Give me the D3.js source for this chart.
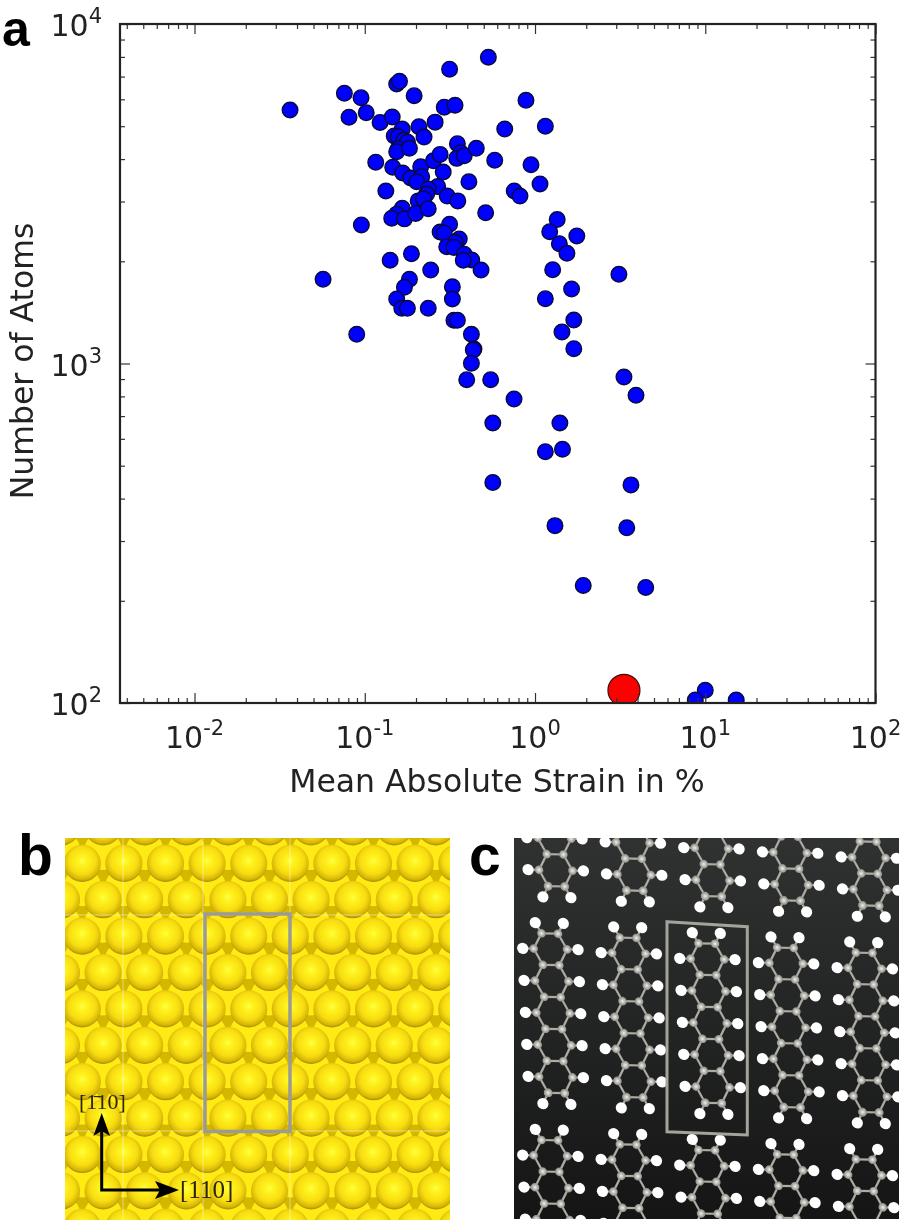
<!DOCTYPE html>
<html>
<head>
<meta charset="utf-8">
<script src="https://cdn.jsdelivr.net/npm/d3@7"></script>
<style>
  html, body { margin: 0; padding: 0; background: #fff; }
  svg { display: block; filter: blur(0.7px); }
  text { font-family: "DejaVu Sans", sans-serif; fill: #222; }
  .panel-letter { font-family: "Liberation Sans", sans-serif; font-weight: bold; font-size: 57px; fill: #000; }
  .miller { font-family: "Liberation Serif", serif; fill: #2a2410; }
</style>
</head>
<body>
<svg id="fig" width="904" height="1225"></svg>
<script>
// panel a values
const strain = [0.0364,0.0759,0.0951,0.0808,0.102,0.123,0.145,0.154,0.160,0.195,0.315,0.532,0.293,0.339,0.259,0.208,0.166,0.149,0.157,0.170,0.178,0.223,0.157,0.154,0.183,0.116,0.146,0.167,0.186,0.213,0.216,0.202,0.253,0.277,0.289,0.350,0.366,0.347,0.384,0.452,0.580,0.409,0.268,0.236,0.231,0.305,0.352,0.206,0.221,0.133,0.166,0.154,0.144,0.171,0.199,0.236,0.513,0.0955,0.315,0.277,0.293,0.359,0.339,0.303,0.334,0.384,0.425,0.379,0.482,0.188,0.141,0.244,0.0569,0.183,0.171,0.327,0.327,0.154,0.165,0.178,0.236,0.334,0.350,0.0897,0.423,0.438,0.434,0.423,0.397,0.549,0.885,1.15,0.664,0.947,1.07,0.755,0.816,1.35,1.22,1.76,1.39,1.54,1.27,3.11,1.64,1.15,1.69,1.44,1.69,3.33,3.92,0.753,0.565,1.40,1.15,1.45,0.565,3.66,1.31,3.46,1.92,4.47,10.0,8.74,15.2];
const atoms = [5580,6250,6067,5310,5480,5130,5320,6660,6780,6150,7360,7980,5690,5760,5140,4985,4905,4680,4656,4550,4490,4645,4285,4207,4305,3917,3784,3640,3517,3800,3550,3430,3956,4130,3664,4440,4178,4020,4093,4305,3970,3430,3319,3266,3155,3112,3013,3013,3055,3220,2864,2754,2678,2667,2767,2858,2780,2559,2570,2438,2420,2328,2275,2208,2198,2099,2018,2014,1884,2104,2014,1884,1770,1770,1676,1683,1549,1549,1454,1454,1454,1340,1340,1219,1219,1104,1096,1001,896,896,5960,5000,4905,3852,3381,3220,3112,2655,2445,2375,2254,2112,1888,1832,1657,1552,1343,1239,1106,912,806,786,668,668,550,559,446,439,333,328,222,219,109,102,102];
const highlightStrain = [3.33];
const highlightAtoms = [109];
const xTickExps = [-2, -1, 0, 1, 2];
const yTickExps = [2, 3, 4];

// panel b, gold surface lattice (pixel positions of the rows and columns)
const goldRowYs = [826.9, 863.3, 899.7, 936.1, 972.5, 1008.9, 1045.3, 1081.7, 1118.1, 1154.5, 1190.9, 1227.3];
const goldColsA = [82.3, 123.9, 165.5, 207.1, 248.7, 290.3, 331.9, 373.5, 415.1, 456.7];
const goldColsB = [61.5, 103.1, 144.7, 186.3, 227.9, 269.5, 311.1, 352.7, 394.3, 435.9];
const goldSeamsX = [123, 203, 290];
const goldSeamsY = [915, 1131];

// panel c, molecule origins (centre of the top H pair) for the middle row
const moleculeXs = [549.3, 627.7, 706.3, 785, 863.7];
const moleculeYs = [923, 927.3, 933, 937.3, 942.3];
const rowShifts = [-206.7, 0, 206.7];

const svg = d3.select("#fig");
const defs = svg.append("defs");

// ---------- panel a ----------
const plotLeft = 120, plotRight = 875.5, plotTop = 24, plotBottom = 703;
const x = d3.scaleLog().domain([0.00365, 100]).range([plotLeft, plotRight]);
const y = d3.scaleLog().domain([100, 10000]).range([plotBottom, plotTop]);

defs.append("clipPath").attr("id", "plotClip")
  .append("rect").attr("x", plotLeft).attr("y", plotTop).attr("width", plotRight - plotLeft).attr("height", plotBottom - plotTop);

const dots = svg.append("g").attr("clip-path", "url(#plotClip)");
dots.selectAll("circle.blue")
  .data(strain)
  .enter()
  .append("circle")
  .attr("class", "blue")
  .attr("cx", d => x(d))
  .attr("cy", (d, i) => y(atoms[i]))
  .attr("r", 7.8)
  .attr("fill", "#0000ff")
  .attr("stroke", "#0a0a3a")
  .attr("stroke-width", 1.4);

dots.selectAll("circle.red")
  .data(highlightStrain)
  .enter()
  .append("circle")
  .attr("class", "red")
  .attr("cx", d => x(d))
  .attr("cy", (d, i) => y(highlightAtoms[i]))
  .attr("r", 16)
  .attr("fill", "#ff0000")
  .attr("stroke", "#3a1010")
  .attr("stroke-width", 1.2);

// matplotlib style ticks, inward on all four sides
const xMajor = xTickExps.map(e => Math.pow(10, e));
const yMajor = yTickExps.map(e => Math.pow(10, e));
const xMinor = x.ticks().filter(t => !xMajor.some(m => Math.abs(m - t) < m * 1e-6));
const yMinor = y.ticks().filter(t => !yMajor.some(m => Math.abs(m - t) < m * 1e-6));

function drawAxis(axisFn, scale, values, size, tx, ty) {
  const g = svg.append("g")
    .attr("transform", `translate(${tx},${ty})`)
    .call(axisFn(scale).tickValues(values).tickSize(size).tickFormat(""));
  g.select(".domain").remove();
  g.selectAll("line").attr("stroke", "#333").attr("stroke-width", 1.2);
}
[[xMajor, 10], [xMinor, 5]].forEach(([vals, len]) => {
  drawAxis(d3.axisBottom, x, vals, -len, 0, plotBottom);
  drawAxis(d3.axisTop, x, vals, -len, 0, plotTop);
});
[[yMajor, 10], [yMinor, 5]].forEach(([vals, len]) => {
  drawAxis(d3.axisLeft, y, vals, -len, plotLeft, 0);
  drawAxis(d3.axisRight, y, vals, -len, plotRight, 0);
});

svg.append("rect")
  .attr("x", plotLeft).attr("y", plotTop)
  .attr("width", plotRight - plotLeft).attr("height", plotBottom - plotTop)
  .attr("fill", "none")
  .attr("stroke", "#222")
  .attr("stroke-width", 2.2);

function powerLabel(px, py, anchor, exp) {
  const t = svg.append("text")
    .attr("x", px).attr("y", py)
    .attr("text-anchor", anchor)
    .style("font-size", "30px");
  t.append("tspan").text("10");
  t.append("tspan").attr("dy", -13).style("font-size", "21px").text(exp);
}
xTickExps.forEach(e => powerLabel(x(Math.pow(10, e)), 748, "middle", e));
yTickExps.forEach(e => powerLabel(102, y(Math.pow(10, e)) + 12, "end", e));

svg.append("text")
  .attr("x", 497).attr("y", 792)
  .attr("text-anchor", "middle")
  .style("font-size", "31.5px")
  .text("Mean Absolute Strain in %");

svg.append("text")
  .attr("transform", "translate(33,361) rotate(-90)")
  .attr("text-anchor", "middle")
  .style("font-size", "31.5px")
  .text("Number of Atoms");

svg.append("text").attr("class", "panel-letter").attr("x", 2).attr("y", 45.5).style("font-size", "50px").text("a");
svg.append("text").attr("class", "panel-letter").attr("x", 18).attr("y", 875).text("b");
svg.append("text").attr("class", "panel-letter").attr("x", 469).attr("y", 875).text("c");

// ---------- panel b ----------
defs.append("clipPath").attr("id", "goldClip")
  .append("rect").attr("x", 65).attr("y", 838).attr("width", 385).attr("height", 382);

const goldGrad = defs.append("radialGradient").attr("id", "goldAtom")
  .attr("cx", "50%").attr("cy", "43%").attr("r", "60%");
[[0, "#ffff50"], [0.18, "#fff41e"], [0.6, "#f8dc10"], [0.84, "#d6b608"], [1, "#8e7800"]]
  .forEach(([o, c]) => goldGrad.append("stop").attr("offset", o).attr("stop-color", c));

const gold = svg.append("g").attr("clip-path", "url(#goldClip)");
gold.append("rect").attr("x", 65).attr("y", 838).attr("width", 385).attr("height", 382).attr("fill", "#d4b800");

const goldAtoms = [];
goldRowYs.forEach((ry, i) => {
  // rows alternate, starting with the B row at the very top
  const cols = i % 2 === 0 ? goldColsB : goldColsA;
  cols.forEach(cx => goldAtoms.push({ cx, cy: ry }));
});
// second layer shows through the gaps
gold.selectAll("circle.under")
  .data(goldAtoms)
  .enter()
  .append("circle")
  .attr("class", "under")
  .attr("cx", d => d.cx)
  .attr("cy", d => d.cy + 24)
  .attr("r", 19)
  .attr("fill", "#ffea14");
gold.selectAll("circle.over")
  .data(goldAtoms)
  .enter()
  .append("circle")
  .attr("class", "over")
  .attr("cx", d => d.cx)
  .attr("cy", d => d.cy)
  .attr("r", 18.6)
  .attr("fill", "url(#goldAtom)");

gold.selectAll("line.seamx").data(goldSeamsX).enter().append("line")
  .attr("x1", d => d).attr("x2", d => d).attr("y1", 838).attr("y2", 1220)
  .attr("stroke", "#fff").attr("stroke-opacity", 0.45);
gold.selectAll("line.seamy").data(goldSeamsY).enter().append("line")
  .attr("x1", 65).attr("x2", 450).attr("y1", d => d).attr("y2", d => d)
  .attr("stroke", "#fff").attr("stroke-opacity", 0.45);

gold.append("rect")
  .attr("x", 205).attr("y", 914)
  .attr("width", 85).attr("height", 217.5)
  .attr("fill", "none")
  .attr("stroke", "#9a9a96")
  .attr("stroke-width", 3.5);

// crystal direction arrows
svg.append("path")
  .attr("d", "M101.7,1130V1190H160")
  .attr("fill", "none").attr("stroke", "#000").attr("stroke-width", 3);
svg.append("path").attr("d", "M101.7,1113L110,1136L101.7,1131L93.4,1136Z").attr("fill", "#000");
svg.append("path").attr("d", "M179,1190L155,1199L160,1190L155,1181Z").attr("fill", "#000");
svg.append("text").attr("class", "miller").attr("x", 180).attr("y", 1198).style("font-size", "25px").text("[110]");
svg.append("text").attr("class", "miller").attr("x", 79).attr("y", 1109).style("font-size", "22px").text("[1\u030410]");

// ---------- panel c ----------
defs.append("clipPath").attr("id", "molClip")
  .append("rect").attr("x", 514).attr("y", 838).attr("width", 385).attr("height", 381);

const darkGrad = defs.append("linearGradient").attr("id", "darkBg")
  .attr("x1", 0).attr("x2", 0).attr("y1", 0).attr("y2", 1);
darkGrad.append("stop").attr("offset", 0).attr("stop-color", "#303232");
darkGrad.append("stop").attr("offset", 1).attr("stop-color", "#151515");

const carbonGrad = defs.append("radialGradient").attr("id", "carbon");
carbonGrad.append("stop").attr("offset", 0).attr("stop-color", "#f0f0ec");
carbonGrad.append("stop").attr("offset", 1).attr("stop-color", "#8a8a82");

const mol = svg.append("g").attr("clip-path", "url(#molClip)");
mol.append("rect").attr("x", 514).attr("y", 838).attr("width", 385).attr("height", 381).attr("fill", "url(#darkBg)");

// one pentacene, local coordinates relative to the centre of the top H pair
const ringRows = [26, 58, 90, 122, 154];
const cAtoms = [], hAtoms = [], bonds = [];
[-1, 1].forEach(s => {
  hAtoms.push([s * 14, 0], [s * 14, 181]);
  cAtoms.push([s * 8.3, 10.5], [s * 8.3, 170]);
  bonds.push([s * 14, 0, s * 8.3, 10.5], [s * 14, 181, s * 8.3, 170]);
  ringRows.forEach(v => {
    hAtoms.push([s * 27.7, v]);
    cAtoms.push([s * 16.7, v], [s * 8.3, v + 16]);
    bonds.push([s * 27.7, v, s * 16.7, v], [s * 16.7, v, s * 8.3, v + 16], [s * 16.7, v, s * 8.3, v === 26 ? 10.5 : v - 16]);
  });
});
[10.5].concat(ringRows.map(v => v + 16)).forEach(v => bonds.push([-8.3, v, 8.3, v]));

const molecules = [];
rowShifts.forEach(shift => {
  moleculeXs.forEach((mx, i) => molecules.push({ mx, my: moleculeYs[i] + shift }));
});

const molG = mol.selectAll("g.molecule")
  .data(molecules)
  .enter()
  .append("g")
  .attr("class", "molecule")
  .attr("transform", d => `matrix(1,0.024,0.042,1,${d.mx},${d.my})`);

molG.selectAll("line")
  .data(bonds)
  .enter()
  .append("line")
  .attr("x1", d => d[0]).attr("y1", d => d[1])
  .attr("x2", d => d[2]).attr("y2", d => d[3])
  .attr("stroke", "#acaca6")
  .attr("stroke-width", 2.2);
molG.selectAll("circle.c")
  .data(cAtoms)
  .enter()
  .append("circle")
  .attr("class", "c")
  .attr("cx", d => d[0]).attr("cy", d => d[1])
  .attr("r", 4.3)
  .attr("fill", "url(#carbon)");
molG.selectAll("circle.h")
  .data(hAtoms)
  .enter()
  .append("circle")
  .attr("class", "h")
  .attr("cx", d => d[0]).attr("cy", d => d[1])
  .attr("r", 5.6)
  .attr("fill", "#ffffff");

mol.append("polygon")
  .attr("points", "667,921.7 747.3,926.7 747.3,1135 667,1131.7")
  .attr("fill", "none")
  .attr("stroke", "#a3a39b")
  .attr("stroke-width", 3);
</script>
</body>
</html>
